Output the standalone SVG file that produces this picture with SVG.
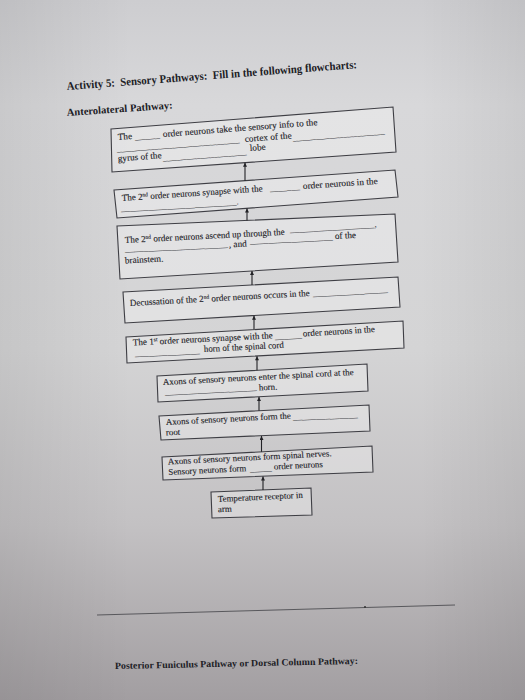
<svg xmlns="http://www.w3.org/2000/svg" width="525" height="700" viewBox="0 0 525 700">
<defs>
<linearGradient id="paper" x1="0" y1="0" x2="0" y2="1">
<stop offset="0" stop-color="#cdcdd0"/>
<stop offset="0.15" stop-color="#d8d8da"/>
<stop offset="0.5" stop-color="#d4d4d5"/>
<stop offset="0.75" stop-color="#c3c1c3"/>
<stop offset="1" stop-color="#a29ea1"/>
</linearGradient>
<linearGradient id="side" x1="0" y1="0" x2="1" y2="0">
<stop offset="0" stop-color="#000" stop-opacity="0.07"/>
<stop offset="0.25" stop-color="#000" stop-opacity="0"/>
<stop offset="0.8" stop-color="#000" stop-opacity="0"/>
<stop offset="1" stop-color="#000" stop-opacity="0.06"/>
</linearGradient>
<marker id="ah" viewBox="0 0 6 6" refX="6" refY="3" markerWidth="5" markerHeight="4" markerUnits="userSpaceOnUse" orient="auto">
<path d="M0,0 L6,3 L0,6 z" fill="#222226"/>
</marker>
</defs>
<style>
.box{fill:#ffffff;fill-opacity:0.3;stroke:#3e3e44;stroke-width:1.1}
.t{font-family:"Liberation Serif","Times New Roman",serif;font-size:9.2px;fill:#222227;stroke:#222227;stroke-width:0.12}
.s{font-size:8.9px}
.u{fill:#45454b;stroke:none}
.sup{font-size:5.5px}
.h{font-family:"Liberation Serif","Times New Roman",serif;font-weight:bold;fill:#202025}
.arr{stroke:#222226;stroke-width:1.1;fill:none}
</style>
<rect x="0" y="0" width="525" height="700" fill="url(#paper)"/>
<rect x="0" y="0" width="525" height="700" fill="url(#side)"/>

<g id="headings">
<text class="h" x="67" y="90" font-size="11.5" transform="rotate(-4.3 67 90)" textLength="291" lengthAdjust="spacingAndGlyphs" xml:space="preserve">Activity 5:  Sensory Pathways:  Fill in the following flowcharts:</text>
<text class="h" x="67" y="116" font-size="10.5" transform="rotate(-4.0 67 116)" textLength="106" lengthAdjust="spacingAndGlyphs">Anterolateral Pathway:</text>
<text class="h" x="115" y="669" font-size="9.5" transform="rotate(-1.2 115 669)" textLength="243" lengthAdjust="spacingAndGlyphs">Posterior Funiculus Pathway or Dorsal Column Pathway:</text>
</g>

<g id="divider">
<line x1="97" y1="615" x2="455" y2="605" stroke="#4e4e52" stroke-width="0.9"/>
<circle cx="365" cy="607" r="1" fill="#333"/>
</g>

<g id="n1">
<polygon class="box" points="111,129 393,107 396,152 112,172"/>
<text class="t" x="118" y="140" transform="rotate(-4.4 118 140)">The</text>
<text class="t u" x="135" y="139.5" transform="rotate(-4.4 135 139.5)" textLength="25" lengthAdjust="spacingAndGlyphs">_____</text>
<text class="t" x="163" y="137" transform="rotate(-4.4 163 137)" textLength="155" lengthAdjust="spacingAndGlyphs">order neurons take the sensory info to the</text>
<text class="t u" x="117" y="151.5" transform="rotate(-4.4 117 151.5)" textLength="123" lengthAdjust="spacingAndGlyphs">__________________________</text>
<text class="t" x="245" y="142" transform="rotate(-4.4 245 142)" textLength="47" lengthAdjust="spacingAndGlyphs">cortex of the</text>
<text class="t u" x="293" y="140.5" transform="rotate(-4.4 293 140.5)" textLength="92" lengthAdjust="spacingAndGlyphs">____________________</text>
<text class="t" x="118" y="161.5" transform="rotate(-4.4 118 161.5)">gyrus of the</text>
<text class="t u" x="163" y="160.5" transform="rotate(-4.4 163 160.5)" textLength="84" lengthAdjust="spacingAndGlyphs">__________________</text>
<text class="t" x="250" y="151" transform="rotate(-4.4 250 151)">lobe</text>
</g>

<g id="n2">
<polygon class="box" points="114,190 395,170 398,197 117,218"/>
<text class="t" x="122" y="201" transform="rotate(-3.9 122 201)" textLength="141" lengthAdjust="spacingAndGlyphs">The 2<tspan class="sup" dy="-3">nd</tspan><tspan dy="3"> order neurons synapse with the</tspan></text>
<text class="t u" x="270" y="191" transform="rotate(-3.9 270 191)" textLength="30" lengthAdjust="spacingAndGlyphs">_______</text>
<text class="t" x="303" y="189" transform="rotate(-3.9 303 189)" textLength="75" lengthAdjust="spacingAndGlyphs">order neurons in the</text>
<text class="t u" x="121" y="211" transform="rotate(-3.2 121 211)" textLength="118" lengthAdjust="spacingAndGlyphs">_________________________.</text>
</g>

<g id="n3">
<polygon class="box" points="117,226 395,214 398,262 120,279"/>
<text class="t" x="125" y="243" transform="rotate(-2.9 125 243)" textLength="160" lengthAdjust="spacingAndGlyphs">The 2<tspan class="sup" dy="-3">nd</tspan><tspan dy="3"> order neurons ascend up through the</tspan></text>
<text class="t u" x="290" y="232" transform="rotate(-3.4 290 232)" textLength="87" lengthAdjust="spacingAndGlyphs">__________________,</text>
<text class="t u" x="125" y="251.5" transform="rotate(-2.6 125 251.5)" textLength="103" lengthAdjust="spacingAndGlyphs">______________________</text>
<text class="t" x="229" y="247.5" transform="rotate(-2.9 229 247.5)">, and</text>
<text class="t u" x="250" y="243.5" transform="rotate(-2.9 250 243.5)" textLength="83" lengthAdjust="spacingAndGlyphs">__________________</text>
<text class="t" x="335" y="239" transform="rotate(-2.9 335 239)">of the</text>
<text class="t" x="125" y="263.5" transform="rotate(-2.9 125 263.5)">brainstem.</text>
</g>

<g id="n4">
<polygon class="box" points="123,292 398,277 400,307 125,323"/>
<text class="t" x="130" y="306" transform="rotate(-3.2 130 306)" textLength="180" lengthAdjust="spacingAndGlyphs">Decussation of the 2<tspan class="sup" dy="-3">nd</tspan><tspan dy="3"> order neurons occurs in the</tspan></text>
<text class="t u" x="313" y="296" transform="rotate(-3.2 313 296)" textLength="75" lengthAdjust="spacingAndGlyphs">________________</text>
</g>

<g id="n5">
<polygon class="box" points="126,337 403,321 404,348 127,363"/>
<text class="t" x="133" y="345.5" transform="rotate(-2.9 133 345.5)" textLength="140" lengthAdjust="spacingAndGlyphs">The 1<tspan class="sup" dy="-3">st</tspan><tspan dy="3"> order neurons synapse with the</tspan></text>
<text class="t u" x="275" y="339" transform="rotate(-2.9 275 339)" textLength="27" lengthAdjust="spacingAndGlyphs">______</text>
<text class="t" x="303" y="336.5" transform="rotate(-3.5 303 336.5)" textLength="72" lengthAdjust="spacingAndGlyphs">order neurons in the</text>
<text class="t u" x="135" y="356" transform="rotate(-2.5 135 356)" textLength="65" lengthAdjust="spacingAndGlyphs">______________</text>
<text class="t" x="204" y="352" transform="rotate(-3 204 352)" textLength="80" lengthAdjust="spacingAndGlyphs">horn of the spinal cord</text>
</g>

<g id="n6">
<polygon class="box" points="157,376 367,364 368,391 158,402"/>
<text class="t s" x="163" y="385" transform="rotate(-3 163 385)" textLength="191" lengthAdjust="spacingAndGlyphs">Axons of sensory neurons enter the spinal cord at the</text>
<text class="t s u" x="165" y="394.5" transform="rotate(-3 165 394.5)" textLength="92" lengthAdjust="spacingAndGlyphs">____________________</text>
<text class="t s" x="259" y="390.5" transform="rotate(-3 259 390.5)">horn.</text>
</g>

<g id="n7">
<polygon class="box" points="159,416 369,405 370,431 161,440"/>
<text class="t s" x="166" y="425" transform="rotate(-3 166 425)" textLength="125" lengthAdjust="spacingAndGlyphs">Axons of sensory neurons form the</text>
<text class="t s u" x="293" y="419.5" transform="rotate(-2.1 293 419.5)" textLength="65" lengthAdjust="spacingAndGlyphs">______________</text>
<text class="t s" x="166" y="435.5" transform="rotate(-3 166 435.5)">root</text>
</g>

<g id="n8">
<polygon class="box" points="162,457 372,446 373,472 163,480"/>
<text class="t s" x="168" y="464.5" transform="rotate(-2.9 168 464.5)" textLength="164" lengthAdjust="spacingAndGlyphs">Axons of sensory neurons form spinal nerves.</text>
<text class="t s" x="168.5" y="475" transform="rotate(-2.9 168.5 475)" textLength="78" lengthAdjust="spacingAndGlyphs">Sensory neurons form</text>
<text class="t s u" x="250" y="471.5" transform="rotate(-2.9 250 471.5)" textLength="22" lengthAdjust="spacingAndGlyphs">_____</text>
<text class="t s" x="274" y="469.5" transform="rotate(-2.9 274 469.5)" textLength="49" lengthAdjust="spacingAndGlyphs">order neurons</text>
</g>

<g id="n9">
<polygon class="box" points="211,492 311,488 312,515 212,518"/>
<text class="t s" x="218" y="502" transform="rotate(-2.8 218 502)" textLength="85" lengthAdjust="spacingAndGlyphs">Temperature receptor in</text>
<text class="t s" x="218" y="512.3" transform="rotate(-2.8 218 512.3)">arm</text>
</g>

<g id="connectors">
<line class="arr" x1="245" y1="180.7" x2="245" y2="162.8" marker-end="url(#ah)"/>
<line class="arr" x1="247" y1="220.4" x2="247" y2="208.5" marker-end="url(#ah)"/>
<line class="arr" x1="252" y1="285" x2="252" y2="271.1" marker-end="url(#ah)"/>
<line class="arr" x1="254" y1="329.6" x2="254" y2="315.7" marker-end="url(#ah)"/>
<line class="arr" x1="257" y1="370.3" x2="257" y2="356.2" marker-end="url(#ah)"/>
<line class="arr" x1="259" y1="410.8" x2="259" y2="396.9" marker-end="url(#ah)"/>
<line class="arr" x1="261.5" y1="451.8" x2="261.5" y2="435.9" marker-end="url(#ah)"/>
<line class="arr" x1="263" y1="489.9" x2="263" y2="476.4" marker-end="url(#ah)"/>
</g>
</svg>
